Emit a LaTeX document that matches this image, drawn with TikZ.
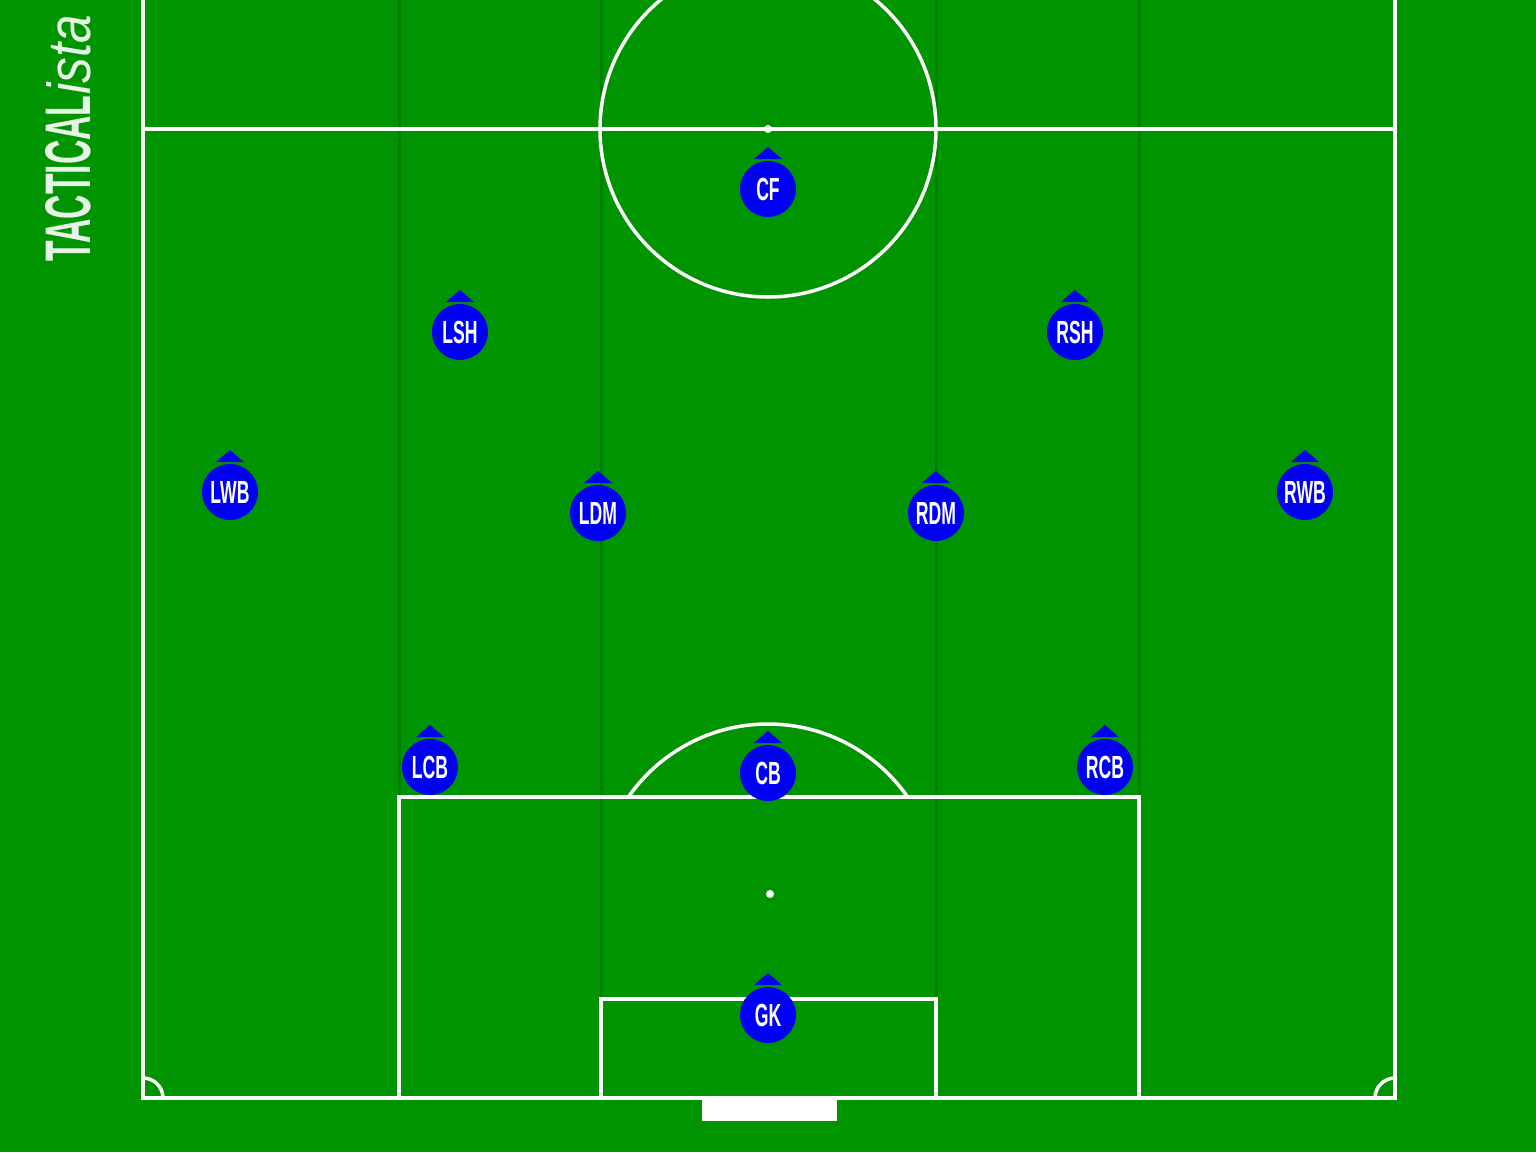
\documentclass[tikz,border=0pt]{standalone}
\usepackage{fontspec}
\setmainfont{Liberation Sans}
\newfontfamily\pfont[FakeStretch=0.55]{Liberation Sans}
\usepackage{graphicx}
\definecolor{pitch}{HTML}{009400}
\definecolor{lane}{HTML}{007E00}
\definecolor{pblue}{HTML}{0000F5}
\definecolor{logo}{HTML}{E6F4E6}
\tikzset{
  wline/.style={draw=white, line width=3.5pt},
  laneline/.style={draw=lane, line width=3pt},
  player/.style={circle, fill=pblue, text=white, minimum size=56pt, inner sep=0pt,
    font=\pfont\bfseries\fontsize{32}{32}\selectfont},
}
\newcommand\plr[4]{%
  \fill[pblue] (#2-14,#3-30) -- (#2,#3-42) -- (#2+14,#3-30) -- cycle;
  \node[player] (#1) at (#2,#3) {#4};}
\begin{document}
\begin{tikzpicture}[x=1pt,y=-1pt]
\fill[pitch] (0,0) rectangle (1536,1152);
\useasboundingbox (0,0) rectangle (1536,1152);
% lane lines
\foreach \lx in {399,601,936,1139} \draw[laneline] (\lx,-5) -- (\lx,1098);
% pitch outline
\draw[wline] (143,-5) -- (143,1098) -- (1395,1098) -- (1395,-5);
\draw[wline] (143,129) -- (1395,129);
\draw[wline] (768,129) circle[radius=168pt];
\fill[white] (768,129) circle[radius=4pt];
% penalty area
\draw[wline] (399,1098) -- (399,797) -- (1139,797) -- (1139,1098);
\draw[wline] (601,1098) -- (601,999) -- (936,999) -- (936,1098);
\fill[white] (770,894) circle[radius=4pt];
\begin{scope}
\clip (0,0) rectangle (1536,797);
\draw[wline] (768,894) circle[radius=170pt];
\end{scope}
% corners
\draw[wline] (143,1078) arc[start angle=90,end angle=0,radius=20pt];
\draw[wline] (1395,1078) arc[start angle=90,end angle=180,radius=20pt];
% goal
\fill[white] (702,1099) rectangle (837,1121);
% logo
\node[text=logo, rotate=90, inner sep=0pt, anchor=center] (logo) at (68,138)
  {\resizebox{166pt}{45pt}{\textbf{TACTICAL}}\hspace{1pt}\resizebox{80pt}{44pt}{\textit{ista}}};
% players
\plr{cf}{768}{189}{CF}
\plr{lsh}{460}{332}{LSH}
\plr{rsh}{1075}{332}{RSH}
\plr{lwb}{230}{492}{LWB}
\plr{rwb}{1305}{492}{RWB}
\plr{ldm}{598}{513}{LDM}
\plr{rdm}{936}{513}{RDM}
\plr{lcb}{430}{767}{LCB}
\plr{cb}{768}{773}{CB}
\plr{rcb}{1105}{767}{RCB}
\plr{gk}{768}{1015}{GK}
\end{tikzpicture}
\end{document}
